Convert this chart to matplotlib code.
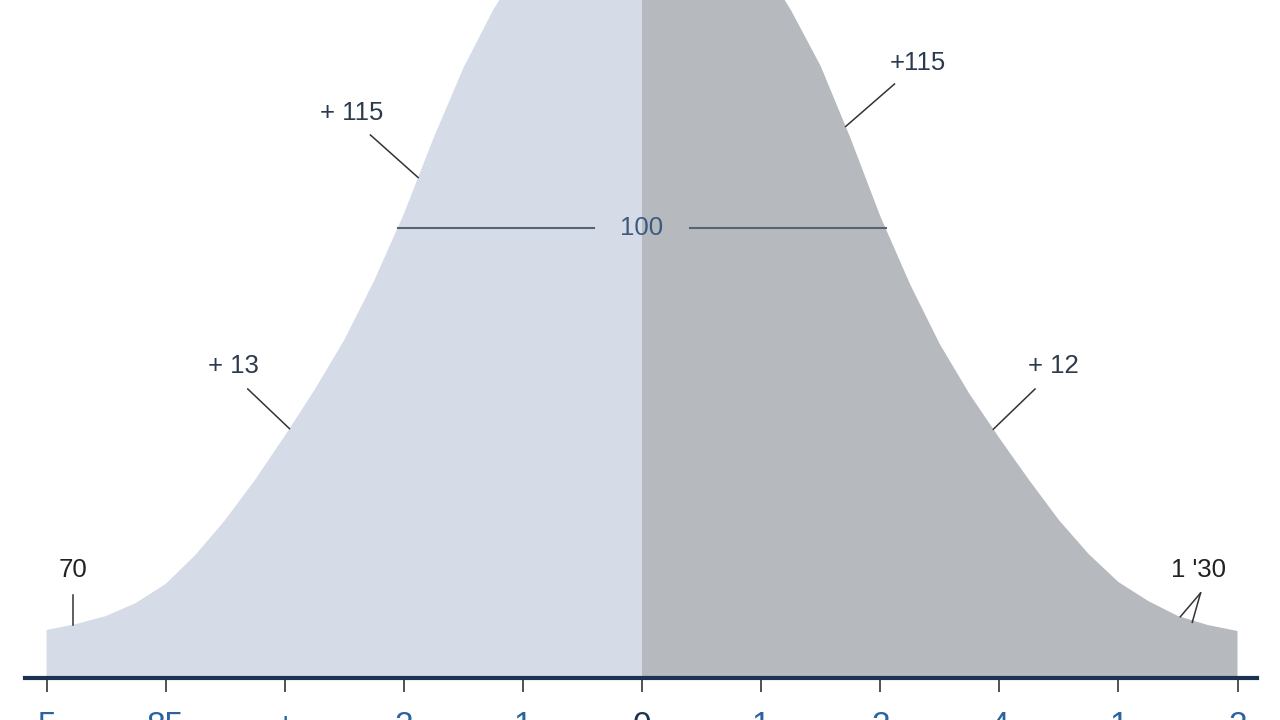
import numpy as np
from matplotlib import pyplot as plt

plt.rcParams['font.family'] = ['Liberation Sans', 'DejaVu Sans']

# Posicoes no eixo x (unidades de desvio) e alturas da curva
x_esq = [-5.0, -4.75, -4.5, -4.25, -4.0, -3.75, -3.5, -3.25, -3.0, -2.75, -2.5,
         -2.25, -2.0, -1.75, -1.5, -1.25, -1.0, -0.75, -0.5, -0.25, 0.0]
h_esq = [46, 52, 60, 73, 92, 121, 156, 196, 240, 286, 336,
         395, 462, 538, 608, 666, 714, 754, 782, 798, 803]

x_dir = [0.0, 0.25, 0.5, 0.75, 1.0, 1.25, 1.5, 1.75, 2.0, 2.25, 2.5,
         2.75, 3.0, 3.25, 3.5, 3.75, 4.0, 4.25, 4.5, 4.75, 5.0]
h_dir = [803, 798, 782, 754, 714, 666, 610, 538, 460, 392, 332,
         282, 238, 196, 156, 122, 94, 75, 60, 51, 45]

# Rotulos dos ticks (cortados na borda inferior, como na figura)
ticks = [-5, -4, -3, -2, -1, 0, 1, 2, 3, 4, 5]
tick_labels = ["5", "85", "+", "2", "1", "0", "1", "2", "4", "1", "2"]

# Anotacoes: texto, posicao do texto, inicio da linha, x da ponta na curva
anotacoes = [
    ("+ 115", (-2.435, 563), (-2.28, 541), -1.88),
    ("+ 13", (-3.43, 310), (-3.31, 287), -2.96),
    ("+115", (2.32, 613), (2.12, 592), 1.71),
    ("+ 12", (3.45, 310), (3.30, 287), 2.95),
]

cor_esq = "#d5dbe7"
cor_dir = "#b6b9bd"
cor_texto = "#2b3a4c"
cor_linha = "#333333"

fig = plt.figure(figsize=(12.8, 7.2), dpi=100)
ax = fig.add_axes([0, 0, 1, 1])
ax.set_xlim(-642 / 119.1, (1280 - 642) / 119.1)
ax.set_ylim(-44, 676)

ax.fill_between(x_esq, -2, h_esq, color=cor_esq, linewidth=0)
ax.fill_between(x_dir, -2, h_dir, color=cor_dir, linewidth=0)

x_todos = x_esq + x_dir[1:]
h_todos = h_esq + h_dir[1:]

# Linha do 100
ax.plot([-2.05, -0.4], [448, 448], color="#566474", lw=1.5)
ax.plot([0.4, 2.05], [448, 448], color="#566474", lw=1.5)
ax.text(0, 448, "100", ha="center", va="center", fontsize=18.5, color="#3b5a80")

for texto, pos_txt, ini, xp in anotacoes:
    yp = np.interp(xp, x_todos, h_todos)
    ax.plot([ini[0], xp], [ini[1], yp], color=cor_linha, lw=1.1)
    ax.text(pos_txt[0], pos_txt[1], texto, ha="center", va="center",
            fontsize=18.5, color=cor_texto)

# "70" com linha vertical
ax.text(-4.78, 106, "70", ha="center", va="center", fontsize=18.5, color="#222222")
ax.plot([-4.78, -4.78], [81, np.interp(-4.78, x_todos, h_todos)], color=cor_linha, lw=1.1)

# "1 '30" com duas linhas em V
ax.text(4.67, 106, "1 '30", ha="center", va="center", fontsize=18.5, color="#222222")
ax.plot([4.69, 4.52], [83, np.interp(4.52, x_todos, h_todos)], color=cor_linha, lw=1.1)
ax.plot([4.69, 4.62], [83, np.interp(4.62, x_todos, h_todos) - 2], color=cor_linha, lw=1.1)

# Eixo inferior
for s in ["top", "right", "left"]:
    ax.spines[s].set_visible(False)
ax.spines["bottom"].set_position(("data", -2))
ax.spines["bottom"].set_bounds(-5.18, 5.16)
ax.spines["bottom"].set_color("#1a3352")
ax.spines["bottom"].set_linewidth(3)
ax.set_yticks([])
ax.set_xticks(ticks)
ax.set_xticklabels(tick_labels)
ax.tick_params(axis="x", direction="out", length=10, width=1.2, color=cor_linha,
               labelsize=24, labelcolor="#2a64a0", pad=14)
ax.get_xticklabels()[5].set_color("#1a3352")

fig.savefig("out.png", dpi=100)
